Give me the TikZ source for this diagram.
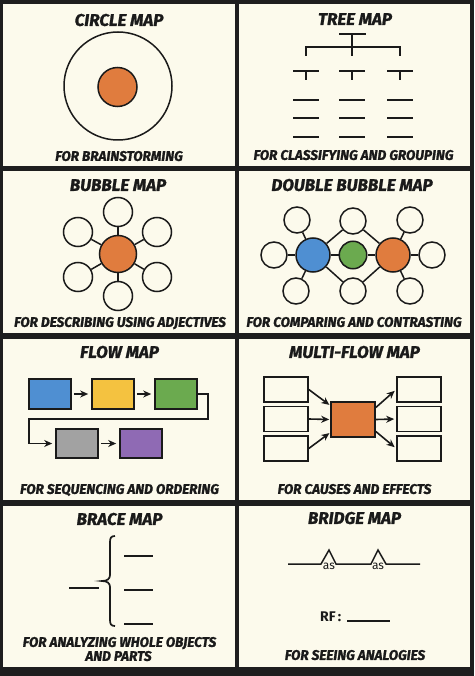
\documentclass[tikz,border=0pt]{standalone}
\usepackage{fontspec}
\usepackage{graphicx}
\setmainfont{Fira Sans}[BoldItalicFeatures={FakeBold=1.3}]
\usetikzlibrary{arrows.meta}
\definecolor{cream}{HTML}{FCFAEC}
\definecolor{frame}{HTML}{1E1E1E}
\definecolor{ink}{HTML}{1A1A1A}
\definecolor{morange}{HTML}{E07C3E}
\definecolor{mblue}{HTML}{4F8FD2}
\definecolor{mgreen}{HTML}{6BAA4F}
\definecolor{myellow}{HTML}{F4C240}
\definecolor{mgray}{HTML}{A2A2A2}
\definecolor{mpurple}{HTML}{8F6AB4}
\newcommand\sq[1]{\scalebox{0.97}[1]{#1}}
\tikzset{
  panel/.style={fill=cream},
  maptitle/.style={font=\fontsize{17}{20}\selectfont\bfseries\itshape, inner sep=0pt, text height=11.8pt, text depth=0pt, text=ink},
  mapsub/.style={font=\fontsize{14}{16}\selectfont\bfseries\itshape, inner sep=0pt, text height=9.8pt, text depth=0pt, text=ink},
  ln/.style={draw=ink, line width=1.7pt},
  bub/.style={circle, draw=ink, line width=1.5pt, fill=cream, inner sep=0pt},
  box/.style={rectangle, draw=ink, line width=1.6pt, inner sep=0pt},
  arr/.style={draw=ink, line width=1.6pt, -{Stealth[length=8pt,width=7pt,inset=2.5pt]}},
}
\begin{document}
\begin{tikzpicture}[x=1pt,y=-1pt]
\useasboundingbox (0,0) rectangle (474,676);
\fill[frame] (0,0) rectangle (474,676);
% panels
\fill[panel] (3,4) rectangle (235,166);
\fill[panel] (239,4) rectangle (470,166);
\fill[panel] (3,171) rectangle (235,333);
\fill[panel] (239,171) rectangle (470,333);
\fill[panel] (3,339) rectangle (235,500);
\fill[panel] (239,339) rectangle (470,500);
\fill[panel] (3,506) rectangle (235,667);
\fill[panel] (239,506) rectangle (470,667);

% ---------- CIRCLE MAP
\node[maptitle] (t1) at (119,20) {CIRCLE MAP};
\node[bub, minimum size=108pt] (cout) at (118,86) {};
\node[bub, fill=morange, minimum size=39pt] (cin) at (117.5,87) {};
\node[mapsub] (s1) at (119,156) {\sq{FOR BRAINSTORMING}};

% ---------- TREE MAP
\node[maptitle] (t2) at (355,19) {TREE MAP};
\draw[ln] (339,34) -- (366,34);
\draw[ln] (352,34) -- (352,56);
\draw[ln] (306,56) -- (306,47) -- (400,47) -- (400,56);
\foreach \cx in {306,352,400}{
  \draw[ln] (\cx-13,71) -- (\cx+13,71);
  \draw[ln] (\cx,71) -- (\cx,80);
  \draw[ln] (\cx-13,100) -- (\cx+13,100);
  \draw[ln] (\cx-13,118) -- (\cx+13,118);
  \draw[ln] (\cx-13,137) -- (\cx+13,137);
}
\node[mapsub] (s2) at (353.5,155) {\sq{FOR CLASSIFYING AND GROUPING}};

% ---------- BUBBLE MAP
\node[maptitle] (t3) at (118,185) {BUBBLE MAP};
\node[bub, fill=morange, minimum size=37pt] (bc) at (118,254) {};
\node[bub, minimum size=29pt] (b1) at (118,212) {};
\node[bub, minimum size=29pt] (b2) at (157,232) {};
\node[bub, minimum size=29pt] (b3) at (157,277) {};
\node[bub, minimum size=29pt] (b4) at (118,296) {};
\node[bub, minimum size=29pt] (b5) at (78,277) {};
\node[bub, minimum size=29pt] (b6) at (78,232) {};
\foreach \n in {b1,b2,b3,b4,b5,b6}{\draw[ln, line width=1.5pt] (bc) -- (\n);}
\node[mapsub] (s3) at (120,322) {\sq{FOR DESCRIBING USING ADJECTIVES}};

% ---------- DOUBLE BUBBLE MAP
\node[maptitle] (t4) at (352,185) {DOUBLE BUBBLE MAP};
\node[bub, fill=mblue, minimum size=34pt] (db) at (313,255) {};
\node[bub, fill=mgreen, minimum size=27.5pt] (dg) at (353,255) {};
\node[bub, fill=morange, minimum size=34pt] (do) at (393,255) {};
\node[bub, minimum size=26pt] (d1) at (297,220) {};
\node[bub, minimum size=26pt] (d2) at (274,255) {};
\node[bub, minimum size=26pt] (d3) at (296,291) {};
\node[bub, minimum size=26pt] (d4) at (353,221) {};
\node[bub, minimum size=26pt] (d5) at (353,291) {};
\node[bub, minimum size=26pt] (d6) at (410,220) {};
\node[bub, minimum size=26pt] (d7) at (432,255) {};
\node[bub, minimum size=26pt] (d8) at (410,291) {};
\foreach \a/\b in {db/d1,db/d2,db/d3,db/d4,db/d5,db/dg,dg/do,do/d4,do/d5,do/d6,do/d7,do/d8}{\draw[ln, line width=1.5pt] (\a) -- (\b);}
\node[mapsub] (s4) at (354,322) {\sq{FOR COMPARING AND CONTRASTING}};

% ---------- FLOW MAP
\node[maptitle] (t5) at (119.5,352) {FLOW MAP};
\node[box, fill=mblue, minimum width=42pt, minimum height=30pt] (f1) at (50,394) {};
\node[box, fill=myellow, minimum width=42pt, minimum height=30pt] (f2) at (113,394) {};
\node[box, fill=mgreen, minimum width=42pt, minimum height=30pt] (f3) at (176,394) {};
\node[box, fill=mgray, minimum width=42pt, minimum height=29pt] (f4) at (77,443.5) {};
\node[box, fill=mpurple, minimum width=42pt, minimum height=29pt] (f5) at (141,443.5) {};
\coordinate (fa) at (208,419);
\coordinate (fb) at (29,419);
\draw[arr, shorten <=2pt, shorten >=3pt] (f1) -- (f2);
\draw[arr, shorten <=2pt, shorten >=3pt] (f2) -- (f3);
\draw[arr, shorten <=2pt, shorten >=3pt] (f4) -- (f5);
\draw[arr, shorten >=3pt] (f3.east) -| (fa) -- (fb) |- (f4.west);
\node[mapsub] (s5) at (119.5,489) {\sq{FOR SEQUENCING AND ORDERING}};

% ---------- MULTI-FLOW MAP
\node[maptitle] (t6) at (354.5,352) {MULTI-FLOW MAP};
\node[box, fill=cream, minimum width=44pt, minimum height=25pt] (l1) at (286,389.5) {};
\node[box, fill=cream, minimum width=44pt, minimum height=25pt] (l2) at (286,419) {};
\node[box, fill=cream, minimum width=44pt, minimum height=25pt] (l3) at (286,448.5) {};
\node[box, fill=cream, minimum width=44pt, minimum height=25pt] (r1) at (419,389.5) {};
\node[box, fill=cream, minimum width=44pt, minimum height=25pt] (r2) at (419,419) {};
\node[box, fill=cream, minimum width=44pt, minimum height=25pt] (r3) at (419,448.5) {};
\node[box, fill=morange, minimum width=44pt, minimum height=35pt] (mc) at (353,419.5) {};
\draw[arr, shorten >=1pt] (l1.east) -- ([yshift=14pt]mc.west);
\draw[arr, shorten >=1pt] (l2.east) -- (mc.west);
\draw[arr, shorten >=1pt] (l3.east) -- ([yshift=-13pt]mc.west);
\draw[arr, shorten >=2pt] ([yshift=12pt]mc.east) -- (r1.west);
\draw[arr, shorten >=2pt] (mc.east) -- (r2.west);
\draw[arr, shorten >=2pt] ([yshift=-12pt]mc.east) -- (r3.west);
\node[mapsub] (s6) at (354.5,489) {\sq{FOR CAUSES AND EFFECTS}};

% ---------- BRACE MAP
\node[maptitle] (t7) at (119.5,519) {BRACE MAP};
\draw[ln] (115,536) .. controls (111,536) and (110,538) .. (110,542) -- (110,575)
  .. controls (110,579) and (107,581) .. (102,581)
  .. controls (107,581) and (110,583) .. (110,587) -- (110,620)
  .. controls (110,624) and (111,626) .. (115,626);
\draw[ln] (69,588) -- (99,588);
\draw[ln] (124,556) -- (153,556);
\draw[ln] (124,590) -- (153,590);
\draw[ln] (124,624) -- (153,624);
\node[mapsub] (s7a) at (119.5,642) {\sq{FOR ANALYZING WHOLE OBJECTS}};
\node[mapsub] (s7b) at (118.5,656) {\sq{AND PARTS}};

% ---------- BRIDGE MAP
\node[maptitle] (t8) at (354.5,518) {BRIDGE MAP};
\draw[ln, line width=1.5pt] (288,564) -- (321,564) -- (329,550) -- (336,564) -- (371,564) -- (378,550) -- (386,564) -- (420,564);
\node[font=\fontsize{12}{13}\selectfont, inner sep=0pt, fill=cream, text=ink] (as1) at (329,566.5) {as};
\node[font=\fontsize{12}{13}\selectfont, inner sep=0pt, fill=cream, text=ink] (as2) at (378,566.5) {as};
\node[font=\fontsize{14}{16}\selectfont\bfseries, inner sep=0pt, anchor=west, text=ink] (rf) at (320,617) {RF\,:};
\draw[ln] (347,621) -- (390,621);
\node[mapsub] (s8) at (355,655) {\sq{FOR SEEING ANALOGIES}};
\end{tikzpicture}
\end{document}
